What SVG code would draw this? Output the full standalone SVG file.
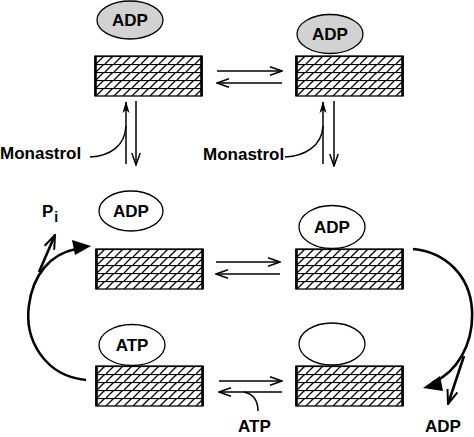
<svg xmlns="http://www.w3.org/2000/svg" xmlns:xlink="http://www.w3.org/1999/xlink" width="474" height="437" viewBox="0 0 474 437">
<style>
text{font-family:"Liberation Sans",Arial,sans-serif;font-weight:bold;font-size:17px;fill:#000}
.ell{stroke:#000;stroke-width:1.3;fill:#fff}
.grey{fill:#d2d2d2}
.ln{fill:none;stroke:#000;stroke-width:1.5}
.arc{fill:none;stroke:#000;stroke-width:2.6}
</style>
<defs>
<pattern id="hatch" patternUnits="userSpaceOnUse" width="9" height="8">
<rect width="9" height="8" fill="#fff"/>
<line x1="0" y1="0.5" x2="9" y2="0.5" stroke="#000" stroke-width="1.2"/>
<path d="M1,8 L9,0 M-8,8 L0,0 M10,8 L18,0" stroke="#000" stroke-width="1.3" fill="none"/>
</pattern>
<g id="mt">
<rect x="0" y="0" width="107" height="40" fill="url(#hatch)" stroke="#000" stroke-width="1.3"/>
<line x1="0.5" y1="0" x2="0.5" y2="40" stroke="#000" stroke-width="2.6"/>
<line x1="106.5" y1="0" x2="106.5" y2="40" stroke="#000" stroke-width="2.6"/>
</g>
<marker id="open" viewBox="0 0 14 10" refX="13" refY="5" markerWidth="14" markerHeight="10" markerUnits="userSpaceOnUse" orient="auto">
<path d="M1,0.8 L13,5 L1,9.2" fill="none" stroke="#000" stroke-width="1.5"/>
</marker>
<marker id="solid" viewBox="0 0 12 8" refX="11" refY="4" markerWidth="12" markerHeight="8" markerUnits="userSpaceOnUse" orient="auto">
<path d="M0,0.5 L12,4 L0,7.5 L3,4 Z" fill="#000"/>
</marker>
<marker id="openbig" viewBox="0 0 16 12" refX="15" refY="6" markerWidth="16" markerHeight="12" markerUnits="userSpaceOnUse" orient="auto">
<path d="M1,0.8 L15,6 L1,11.2" fill="none" stroke="#000" stroke-width="2"/>
</marker>
</defs>

<g id="state-top-left">
<use xlink:href="#mt" x="95" y="56"/>
<ellipse class="ell grey" cx="130" cy="20" rx="33" ry="19"/>
<text x="130" y="26" text-anchor="middle">ADP</text>
</g>
<g id="state-top-right">
<use xlink:href="#mt" x="296" y="56"/>
<ellipse class="ell grey" cx="330" cy="34" rx="33" ry="19.5"/>
<text x="330" y="40" text-anchor="middle">ADP</text>
</g>
<g id="state-mid-left">
<use xlink:href="#mt" x="96" y="249"/>
<ellipse class="ell" cx="131" cy="211" rx="32" ry="20"/>
<text x="131" y="217" text-anchor="middle">ADP</text>
</g>
<g id="state-mid-right">
<use xlink:href="#mt" x="296" y="249"/>
<ellipse class="ell" cx="332" cy="227" rx="33" ry="21.5"/>
<text x="332" y="233" text-anchor="middle">ADP</text>
</g>
<g id="state-bottom-left">
<use xlink:href="#mt" x="96" y="366"/>
<ellipse class="ell" cx="132" cy="345" rx="33" ry="20.5"/>
<text x="132" y="351" text-anchor="middle">ATP</text>
</g>
<g id="state-bottom-right">
<use xlink:href="#mt" x="296" y="366"/>
<ellipse class="ell" cx="332" cy="344" rx="33" ry="21"/>
</g>

<g id="labels">
<text x="0" y="159">Monastrol</text>
<text x="203" y="160">Monastrol</text>
<text x="42" y="217">P<tspan font-size="14" dx="1" dy="5">i</tspan></text>
<text x="238" y="432">ATP</text>
<text x="425" y="432">ADP</text>
</g>

<g id="connectors">
<line class="ln" x1="217" y1="71" x2="282" y2="71" marker-end="url(#open)"/>
<line class="ln" x1="282" y1="83" x2="217" y2="83" marker-end="url(#open)"/>
<line class="ln" x1="216" y1="262" x2="280" y2="262" marker-end="url(#open)"/>
<line class="ln" x1="280" y1="274" x2="216" y2="274" marker-end="url(#open)"/>
<line class="ln" x1="219" y1="381" x2="282" y2="381" marker-end="url(#open)"/>
<line class="ln" x1="282" y1="392" x2="219" y2="392" marker-end="url(#open)"/>
<path class="ln" d="M258,411 C258,401 253,394 244,392"/>
<line class="ln" x1="126" y1="164" x2="126" y2="102" marker-end="url(#solid)"/>
<line class="ln" x1="136" y1="101" x2="136" y2="165" marker-end="url(#open)"/>
<path class="ln" d="M90,157 C110,156 125,146 126,126"/>
<line class="ln" x1="323" y1="164" x2="323" y2="102" marker-end="url(#solid)"/>
<line class="ln" x1="334" y1="101" x2="334" y2="166" marker-end="url(#open)"/>
<path class="ln" d="M285,157 C305,156 322,146 323,126"/>
<path class="arc" d="M86,380 C45,376 24,340 29,305 C33,275 50,254 76,249"/>
<path d="M91,246 L72,240 L75,255 Z" fill="#000"/>
<path class="arc" d="M39,272 L55,235" marker-end="url(#openbig)"/>
<path class="arc" d="M413,249 C445,252 470,275 472,310 C474,345 456,373 432,383"/>
<path d="M423,388 L440,376 L443,391 Z" fill="#000"/>
<path class="arc" d="M464,356 L448,404" marker-end="url(#openbig)"/>
</g>
</svg>
